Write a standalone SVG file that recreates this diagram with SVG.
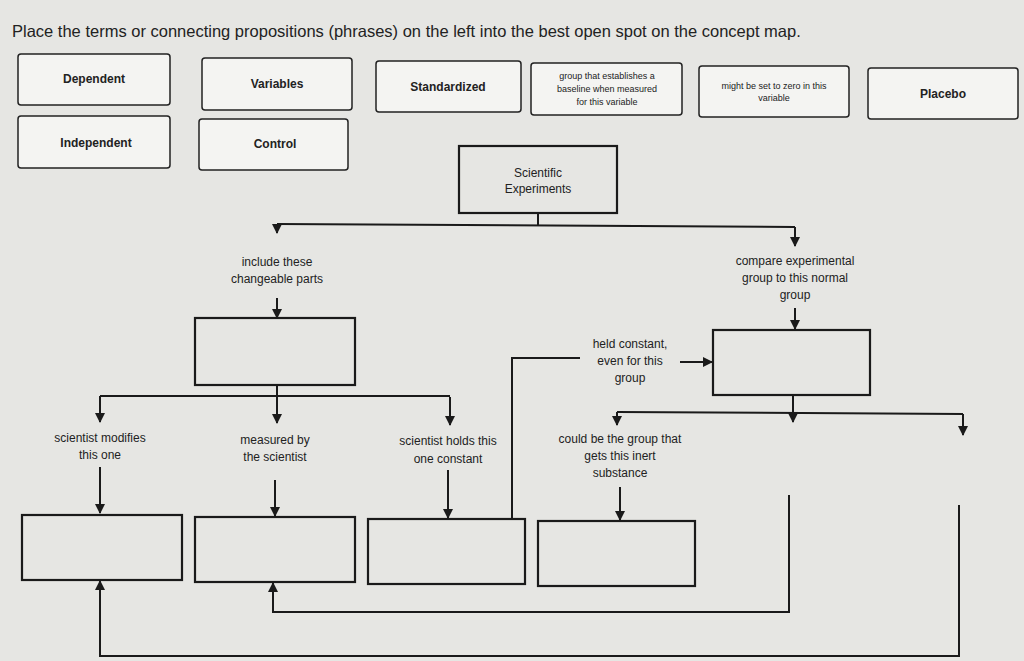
<svg xmlns="http://www.w3.org/2000/svg" width="1024" height="661" viewBox="0 0 1024 661">
<defs>
<marker id="ah" viewBox="0 0 10 10" refX="9" refY="5" markerWidth="5" markerHeight="5" orient="auto"><path d="M0,0L10,5L0,10z" fill="#1a1a1a"/></marker>
<style>
.b{fill:#f4f4f2;stroke:#222;stroke-width:1.5}
.e{fill:none;stroke:#1a1a1a;stroke-width:2.2}
.c{fill:none;stroke:#1a1a1a;stroke-width:2;marker-end:url(#ah)}
.l{fill:none;stroke:#1a1a1a;stroke-width:2}
text{font-family:"Liberation Sans",Arial,sans-serif;fill:#222;text-anchor:middle}
.t{font-size:12px;font-weight:bold}
.s{font-size:9px}
.m{font-size:12px}
</style>
</defs>
<rect width="1024" height="661" fill="#e6e6e3"/>
<text x="12" y="37" style="text-anchor:start;font-size:16.5px">Place the terms or connecting propositions (phrases) on the left into the best open spot on the concept map.</text>
<g id="n-dependent"><rect class="b" x="18" y="54" width="152" height="51" rx="3"/><text class="t" x="94" y="83">Dependent</text></g>
<g id="n-variables"><rect class="b" x="202" y="58" width="150" height="52" rx="3"/><text class="t" x="277" y="88">Variables</text></g>
<g id="n-standardized"><rect class="b" x="376" y="61" width="145" height="51" rx="3"/><text class="t" x="448" y="91">Standardized</text></g>
<g id="n-baseline"><rect class="b" x="531" y="63" width="151" height="52" rx="3"/><text class="s" x="607" y="79">group that establishes a</text><text class="s" x="607" y="92">baseline when measured</text><text class="s" x="607" y="105">for this variable</text></g>
<g id="n-zero"><rect class="b" x="699" y="66" width="150" height="51" rx="3"/><text class="s" x="774" y="89">might be set to zero in this</text><text class="s" x="774" y="101">variable</text></g>
<g id="n-placebo"><rect class="b" x="868" y="68" width="150" height="51" rx="3"/><text class="t" x="943" y="98">Placebo</text></g>
<g id="n-independent"><rect class="b" x="18" y="116" width="152" height="52" rx="3"/><text class="t" x="96" y="147">Independent</text></g>
<g id="n-control"><rect class="b" x="199" y="119" width="149" height="51" rx="3"/><text class="t" x="275" y="148">Control</text></g>
<g id="n-scientific"><rect class="e" x="459" y="146" width="158" height="67"/><text class="m" x="538" y="177">Scientific</text><text class="m" x="538" y="193">Experiments</text></g>
<g id="n-box1"><rect class="e" x="195" y="318" width="160" height="67"/></g>
<g id="n-box2"><rect class="e" x="713" y="330" width="157" height="65"/></g>
<g id="n-b3"><rect class="e" x="22" y="515" width="160" height="65"/></g>
<g id="n-b4"><rect class="e" x="195" y="517" width="160" height="65"/></g>
<g id="n-b5"><rect class="e" x="368" y="519" width="157" height="65"/></g>
<g id="n-b6"><rect class="e" x="538" y="521" width="157" height="65"/></g>
<g id="connectors">
<path class="l" d="M538,213V225M277,224L795,227"/>
<path class="c" d="M277,224V233"/>
<path class="c" d="M795,227V246"/>
<path class="c" d="M277,298V318"/>
<path class="c" d="M795,308V329"/>
<path class="c" d="M277,385V423"/>
<path class="l" d="M100,396H450"/>
<path class="c" d="M100,396V422"/>
<path class="c" d="M450,397V425"/>
<path class="c" d="M100,467V513"/>
<path class="c" d="M275,480V516"/>
<path class="c" d="M448,470V518"/>
<path class="l" d="M512,519V358H580"/>
<path class="c" d="M680,362H712"/>
<path class="c" d="M793,395V422"/>
<path class="l" d="M617,412L963,414"/>
<path class="c" d="M617,412V425"/>
<path class="c" d="M963,414V435"/>
<path class="c" d="M620,487V520"/>
<path class="c" d="M789,495V612H273V583"/>
<path class="c" d="M959,505V656H100V581"/>
</g>
<g id="labels" font-size="12">
<text class="m" x="277" y="266">include these</text><text class="m" x="277" y="283">changeable parts</text>
<text class="m" x="795" y="265">compare experimental</text><text class="m" x="795" y="282">group to this normal</text><text class="m" x="795" y="299">group</text>
<text class="m" x="630" y="348">held constant,</text><text class="m" x="630" y="365">even for this</text><text class="m" x="630" y="382">group</text>
<text class="m" x="100" y="442">scientist modifies</text><text class="m" x="100" y="459">this one</text>
<text class="m" x="275" y="444">measured by</text><text class="m" x="275" y="461">the scientist</text>
<text class="m" x="448" y="445">scientist holds this</text><text class="m" x="448" y="463">one constant</text>
<text class="m" x="620" y="443">could be the group that</text><text class="m" x="620" y="460">gets this inert</text><text class="m" x="620" y="477">substance</text>
</g>
</svg>
